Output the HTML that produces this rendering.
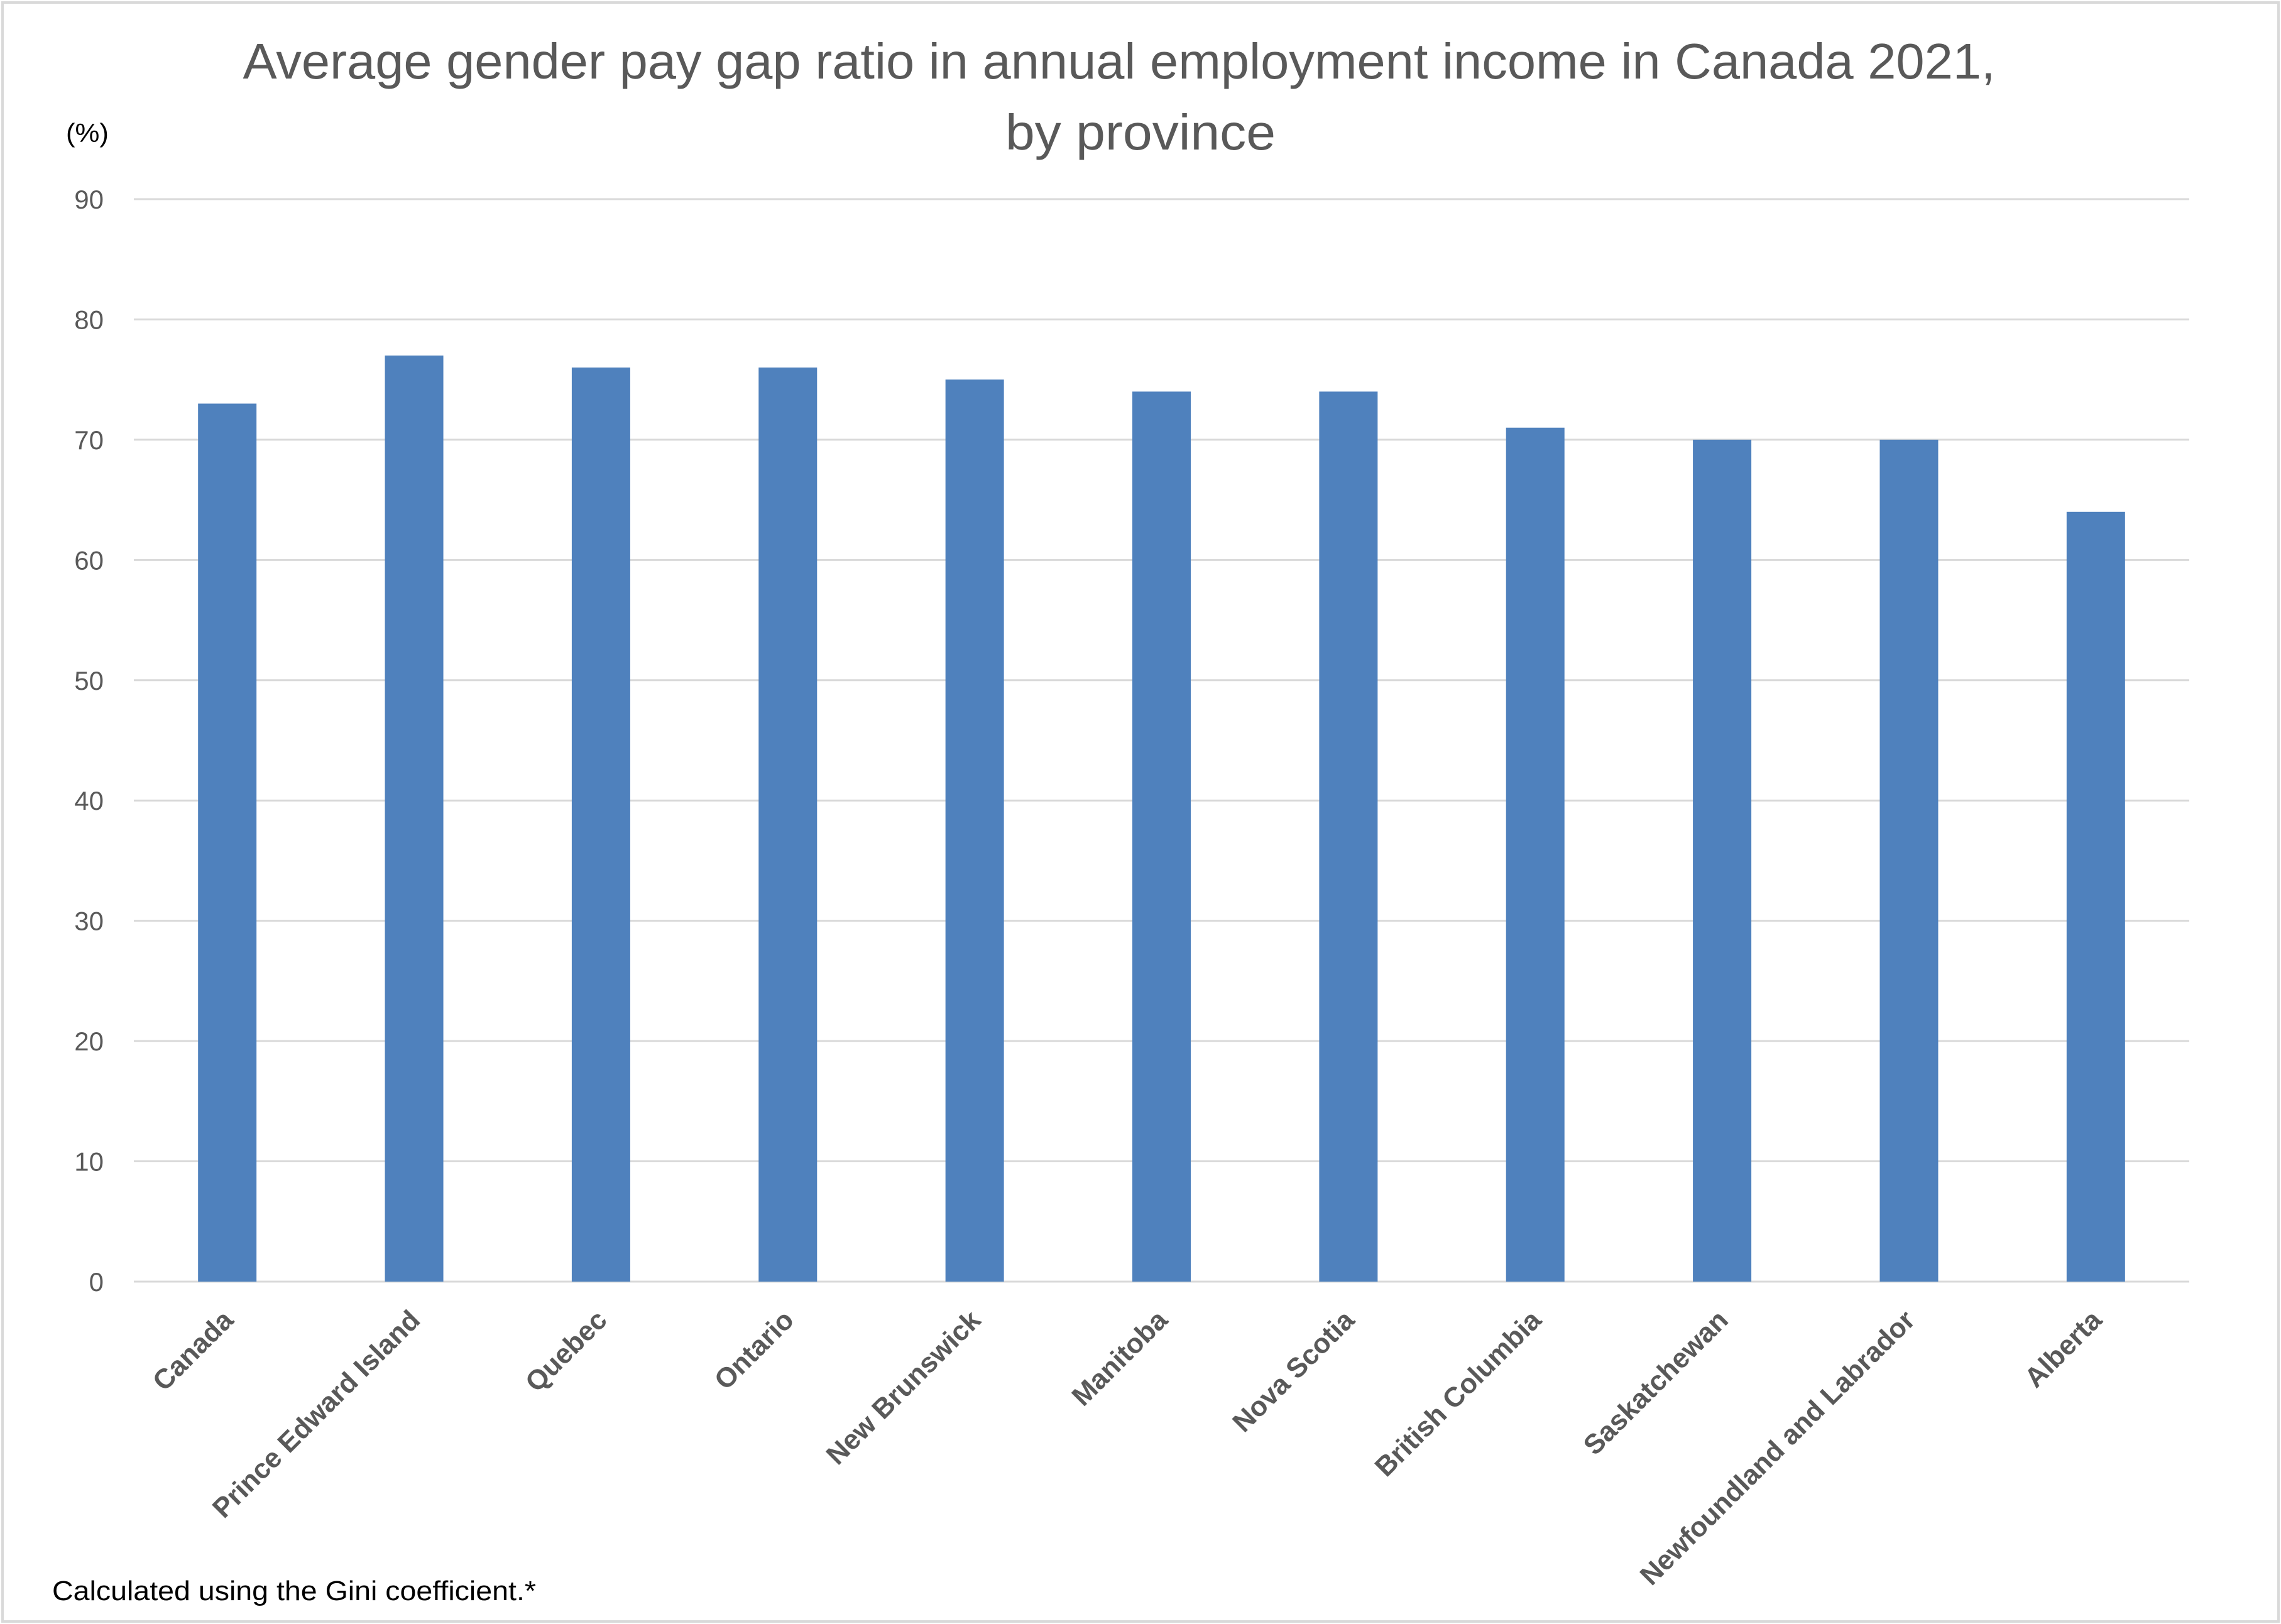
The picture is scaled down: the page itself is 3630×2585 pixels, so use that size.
<!DOCTYPE html>
<html><head><meta charset="utf-8"><style>
html,body{margin:0;padding:0;background:#fff;}
svg{display:block;font-family:"Liberation Sans",Arial,sans-serif;}
</style></head><body>
<svg id="chart" width="3630" height="2585" viewBox="0 0 3630 2585" xmlns="http://www.w3.org/2000/svg">
<rect x="4" y="4" width="3622" height="2577" fill="#fff" stroke="#d9d9d9" stroke-width="4"/>
<text x="1781" y="125" text-anchor="middle" font-size="80" fill="#595959" textLength="2789" lengthAdjust="spacingAndGlyphs">Average gender pay gap ratio in annual employment income in Canada 2021,</text>
<text x="1815" y="238" text-anchor="middle" font-size="80" fill="#595959" textLength="430" lengthAdjust="spacingAndGlyphs">by province</text>
<text x="105" y="226" font-size="42" fill="#000" textLength="68" lengthAdjust="spacingAndGlyphs">(%)</text>
<g id="grid"></g>
<g id="bars"></g>
<g id="xlabels"></g>
<text x="83" y="2547" font-size="44" fill="#000" textLength="770" lengthAdjust="spacingAndGlyphs">Calculated using the Gini coefficient.*</text>
</svg>
<script>
const categories = ["Canada","Prince Edward Island","Quebec","Ontario","New Brunswick","Manitoba","Nova Scotia","British Columbia","Saskatchewan","Newfoundland and Labrador","Alberta"];
const values = [73,77,76,76,75,74,74,71,70,70,64];
const yTicks = [0,10,20,30,40,50,60,70,80,90];

const NS="http://www.w3.org/2000/svg";
const plotL=213, plotR=3484, plotT=317, plotB=2040, yMax=90;
const band=(plotR-plotL)/categories.length, barW=93;
function yScale(v){return plotB-(v/yMax)*(plotB-plotT);}
function xCenter(i){return plotL+band*(i+0.5);}
const grid=document.getElementById('grid'), bars=document.getElementById('bars'), xl=document.getElementById('xlabels');
yTicks.forEach(t=>{
  const l=document.createElementNS(NS,'line');
  
  
  l.setAttribute('x1',plotL);l.setAttribute('x2',plotR);l.setAttribute('y1',yScale(t));l.setAttribute('y2',yScale(t));
  l.setAttribute('stroke','#d9d9d9');l.setAttribute('stroke-width','3');
  grid.appendChild(l);
  const tx=document.createElementNS(NS,'text');
  
  
  tx.setAttribute('x',165);tx.setAttribute('y',yScale(t)+15);tx.setAttribute('text-anchor','end');
  tx.setAttribute('font-size','42');tx.setAttribute('fill','#595959');
  tx.textContent=t;grid.appendChild(tx);
});
categories.forEach((c,i)=>{
  const r=document.createElementNS(NS,'rect');
  
  
  r.setAttribute('x',xCenter(i)-barW/2);r.setAttribute('y',yScale(values[i]));
  r.setAttribute('width',barW);r.setAttribute('height',plotB-yScale(values[i]));
  r.setAttribute('fill','#4f81bd');
  bars.appendChild(r);
  const t=document.createElementNS(NS,'text');
  
  
  const ax=xCenter(i)+12, ay=2104;
  t.setAttribute('x',ax);t.setAttribute('y',ay);t.setAttribute('text-anchor','end');
  t.setAttribute('transform','rotate(-45 '+ax+' '+ay+')');
  t.setAttribute('font-size','44');t.setAttribute('font-weight','bold');t.setAttribute('fill','#595959');
  t.textContent=c;xl.appendChild(t);
});
</script>
</body></html>
